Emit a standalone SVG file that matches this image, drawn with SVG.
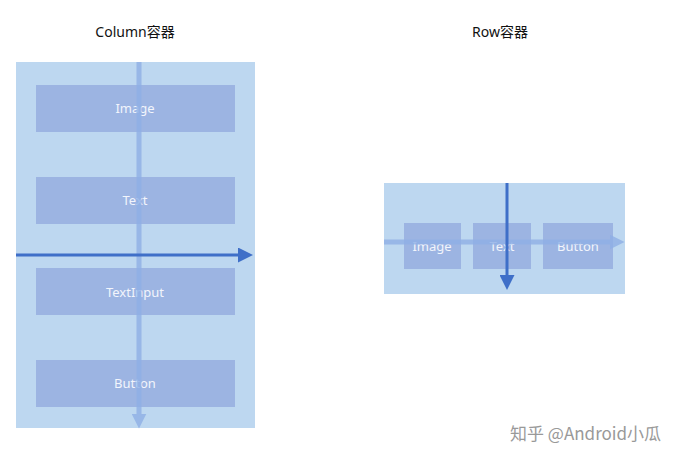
<svg xmlns="http://www.w3.org/2000/svg" width="693" height="460" viewBox="0 0 693 460">
<style>
.ct{fill:#bdd7f0}
.nd{fill:#9cb4e2}
.lb{font-family:"Noto Sans","Liberation Sans",sans-serif;font-size:13px;fill:#f2f5fc;text-anchor:middle}
.tt{font-family:"Noto Sans","Noto Sans CJK SC",sans-serif;font-size:14px;fill:#111;text-anchor:middle}
.la{stroke:#8fb0e6;stroke-width:5}
.da{stroke:#3f6fc8;stroke-width:3}
</style>
<defs>
<marker id="ml" markerWidth="3" markerHeight="3" refX="1.5" refY="1.5" orient="auto" markerUnits="strokeWidth"><path d="M0,0L3,1.5L0,3z" fill="#8fb0e6"/></marker>
<marker id="md" markerWidth="5" markerHeight="5" refX="3" refY="2.5" orient="auto" markerUnits="strokeWidth"><path d="M0,0L5,2.5L0,5z" fill="#3f6fc8"/></marker>
</defs>
<rect width="693" height="460" fill="#fff"/>
<text class="tt" x="135" y="37">Column容器</text>
<text class="tt" x="500" y="37">Row容器</text>
<g id="column"><rect class="ct" x="16" y="62" width="239" height="366"/></g>
<g id="row"><rect class="ct" x="384" y="183" width="241" height="111"/></g>
<g id="c-image"><rect class="nd" x="36" y="85" width="199" height="47"/><text class="lb" x="135" y="113">Image</text></g>
<g id="c-text"><rect class="nd" x="36" y="177" width="199" height="47"/><text class="lb" x="135" y="205">Text</text></g>
<g id="c-textinput"><rect class="nd" x="36" y="268" width="199" height="47"/><text class="lb" x="135" y="297">TextInput</text></g>
<g id="c-button"><rect class="nd" x="36" y="360" width="199" height="47"/><text class="lb" x="135" y="388">Button</text></g>
<g id="r-image"><rect class="nd" x="404" y="223" width="57" height="46"/><text class="lb" x="432" y="251">Image</text></g>
<g id="r-text"><rect class="nd" x="473" y="223" width="58" height="46"/><text class="lb" x="502" y="251">Text</text></g>
<g id="r-button"><rect class="nd" x="543" y="223" width="70" height="46"/><text class="lb" x="578" y="251">Button</text></g>
<g id="connectors">
<line class="la" x1="139" y1="62" x2="139" y2="421" marker-end="url(#ml)" opacity="0.8"/>
<line class="da" x1="16" y1="255" x2="247" y2="255" marker-end="url(#md)"/>
<line class="la" x1="384" y1="242" x2="617" y2="242" marker-end="url(#ml)" opacity="0.8"/>
<line class="da" x1="507" y1="183" x2="507" y2="284" marker-end="url(#md)"/>
</g>
<text x="510" y="440" font-family="Noto Sans CJK SC,sans-serif" font-size="17" fill="#999">知乎 @Android小瓜</text>
</svg>
